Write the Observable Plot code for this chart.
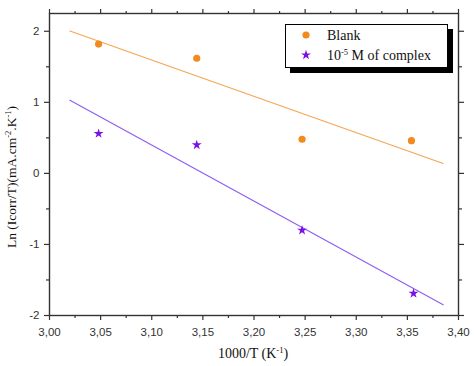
<!DOCTYPE html>
<html>
<head>
<meta charset="utf-8">
<script src="https://cdn.jsdelivr.net/npm/d3@7"></script>
<script src="https://cdn.jsdelivr.net/npm/@observablehq/plot@0.6"></script>
<style>
  html, body { margin: 0; padding: 0; background: #fff; }
  svg { display: block; }
</style>
</head>
<body>
<div id="chart"></div>
<script>
// Data
const blankX = [3.048, 3.144, 3.247, 3.354];
const blankY = [1.82, 1.62, 0.48, 0.46];
const complexX = [3.048, 3.144, 3.247, 3.356];
const complexY = [0.56, 0.40, -0.80, -1.69];
// Fitted lines (endpoints as drawn)
const fitX = [3.02, 3.385];
const blankFitY = [2.005, 0.14];
const complexFitY = [1.03, -1.85];
// Ticks
const xMajor = [3.00, 3.05, 3.10, 3.15, 3.20, 3.25, 3.30, 3.35, 3.40];
const xMinor = [3.025, 3.075, 3.125, 3.175, 3.225, 3.275, 3.325, 3.375];
const yMajor = [-2, -1, 0, 1, 2];
const yMinor = [-1.5, -0.5, 0.5, 1.5];
// Legend
const legendLabels = ["Blank", "10", "-5", " M of complex"];

const orangeDot = "#f28a1e";
const orangeLine = "#f5a552";
const purpleDot = "#7a12e6";
const purpleLine = "#8d5cf2";
const axisColor = "#333";

const blank = blankX.map((x, i) => ({x, y: blankY[i]}));
const complex = complexX.map((x, i) => ({x, y: complexY[i]}));
const blankFit = fitX.map((x, i) => ({x, y: blankFitY[i]}));
const complexFit = fitX.map((x, i) => ({x, y: complexFitY[i]}));

const fmtX = d => d.toFixed(2).replace(".", ",");
const fmtY = d => String(d);

const tickStyle = {stroke: axisColor, strokeWidth: 1.2};
const starR = 3.1;

const chart = Plot.plot({
  width: 474,
  height: 366,
  marginLeft: 49,
  marginRight: 16,
  marginTop: 13,
  marginBottom: 51,
  style: {fontFamily: "'Liberation Sans', Arial, sans-serif", fontSize: "11.5px", color: axisColor, background: "#fff"},
  x: {domain: [3.0, 3.4]},
  y: {domain: [-2, 2.25]},
  marks: [
    Plot.line(blankFit, {x: "x", y: "y", stroke: orangeLine, strokeWidth: 1.1}),
    Plot.line(complexFit, {x: "x", y: "y", stroke: purpleLine, strokeWidth: 1.1}),
    Plot.dot(blank, {x: "x", y: "y", r: 3.6, fill: orangeDot, stroke: "none"}),
    Plot.dot(complex, {x: "x", y: "y", r: starR, symbol: "star", fill: purpleDot, stroke: "none"}),
    // bottom axis
    Plot.axisX({anchor: "bottom", ticks: xMajor, tickSize: 5, tickPadding: 7, tickFormat: fmtX, label: null, ...tickStyle}),
    Plot.axisX({anchor: "bottom", ticks: xMinor, tickSize: 3, tickFormat: () => "", label: null, ...tickStyle}),
    // top axis
    Plot.axisX({anchor: "top", ticks: xMajor, tickSize: 5, tickFormat: () => "", label: null, ...tickStyle}),
    Plot.axisX({anchor: "top", ticks: xMinor, tickSize: 3, tickFormat: () => "", label: null, ...tickStyle}),
    // left axis
    Plot.axisY({anchor: "left", ticks: yMajor, tickSize: 5, tickPadding: 5, tickFormat: fmtY, label: null, ...tickStyle}),
    Plot.axisY({anchor: "left", ticks: yMinor, tickSize: 3, tickFormat: () => "", label: null, ...tickStyle}),
    // right axis
    Plot.axisY({anchor: "right", ticks: yMajor, tickSize: 5, tickFormat: () => "", label: null, ...tickStyle}),
    Plot.axisY({anchor: "right", ticks: yMinor, tickSize: 3, tickFormat: () => "", label: null, ...tickStyle}),
    Plot.frame({stroke: axisColor, strokeWidth: 1.4})
  ]
});

document.getElementById("chart").appendChild(chart);

const svg = d3.select(chart);
const serif = "'Liberation Serif', 'Times New Roman', serif";

// X axis title
const xt = svg.append("text")
  .attr("x", 253).attr("y", 358)
  .attr("text-anchor", "middle")
  .style("font-family", serif).style("font-size", "14px").style("fill", "#111");
xt.append("tspan").text("1000/T (K");
xt.append("tspan").style("font-size", "8.5px").attr("dy", -5).text("-1");
xt.append("tspan").attr("dy", 5).text(")");

// Y axis title
const yt = svg.append("text")
  .attr("transform", "translate(16,177) rotate(-90)")
  .attr("text-anchor", "middle")
  .style("font-family", serif).style("font-size", "13.5px").style("fill", "#111");
yt.append("tspan").text("Ln (Icorr/T)(mA.cm");
yt.append("tspan").style("font-size", "8.5px").attr("dy", -5).text("-2");
yt.append("tspan").attr("dy", 5).text(".K");
yt.append("tspan").style("font-size", "8.5px").attr("dy", -5).text("-1");
yt.append("tspan").attr("dy", 5).text(")");

// Legend
const lg = svg.append("g").attr("text-anchor", "start");
lg.append("rect").attr("x", 290).attr("y", 29).attr("width", 163).attr("height", 44)
  .style("fill", "#000").style("stroke", "none");
lg.append("rect").attr("x", 285.5).attr("y", 24.5).attr("width", 162).attr("height", 43)
  .style("fill", "#fff").style("stroke", "#000").style("stroke-width", "1px");
lg.append("circle").attr("cx", 306).attr("cy", 35).attr("r", 3.6).style("fill", orangeDot);
lg.append("path").attr("d", d3.symbol(d3.symbolStar, Math.PI * starR * starR)())
  .attr("transform", "translate(306,55)").style("fill", purpleDot);
lg.append("text").attr("x", 327).attr("y", 40).attr("text-anchor", "start")
  .style("font-family", serif).style("font-size", "14px").style("fill", "#111").text(legendLabels[0]);
const lt = lg.append("text").attr("x", 327).attr("y", 60).attr("text-anchor", "start")
  .style("font-family", serif).style("font-size", "14px").style("fill", "#111");
lt.append("tspan").text(legendLabels[1]);
lt.append("tspan").style("font-size", "8.5px").attr("dy", -5).text(legendLabels[2]);
lt.append("tspan").attr("dy", 5).text(legendLabels[3]);
</script>
</body>
</html>
